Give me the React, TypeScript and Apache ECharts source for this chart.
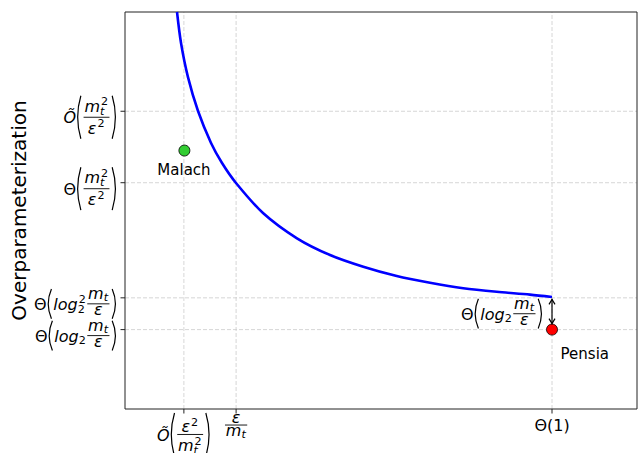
import React, { useEffect, useRef } from "react";
import * as echarts from "echarts";

// ---------------- data ----------------
const curveX = [1.016, 1.094, 1.23, 1.426, 1.68, 1.895, 2.168, 2.695, 3.359, 4.004, 4.654, 5.307, 5.957, 6.607, 7.26, 7.91, 8.34];
const curveY = [10.0, 9.22, 8.36, 7.506, 6.7, 6.196, 5.693, 4.937, 4.3, 3.879, 3.584, 3.35, 3.181, 3.043, 2.952, 2.882, 2.82];
const pointNames = ["Malach", "Pensia"];
const pointX = [1.16, 8.34];
const pointY = [6.51, 2.0];
const pointColors = ["#32cd32", "#ff0000"];
const xTickValues = [1.15, 2.17, 8.34];
const yTickValues = [7.5, 5.7, 2.8, 2.0];
const gapArrowX = 8.34;
const gapArrowFrom = 2.8;
const gapArrowTo = 2.0;
const yAxisTitle = "Overparameterization";
const xTickTexts = ["Õ(ε²/m_t²)", "ε/m_t", "Θ(1)"];
const yTickTexts = ["Õ(m_t²/ε²)", "Θ(m_t²/ε²)", "Θ(log₂² m_t/ε)", "Θ(log₂ m_t/ε)"];

// ---------------- tiny math typesetting ----------------
type M =
  | { k: "s"; t: string; it: boolean }
  | { k: "scr"; b: M[]; sub?: M[]; sup?: M[] }
  | { k: "f"; n: M[]; d: M[] }
  | { k: "lr"; b: M[] };

const v = (t: string): M => ({ k: "s", t, it: true });
const r = (t: string): M => ({ k: "s", t, it: false });
const scr = (b: M[], sub?: M[], sup?: M[]): M => ({ k: "scr", b, sub, sup });
const frac = (n: M[], d: M[]): M => ({ k: "f", n, d });
const lr = (...b: M[]): M => ({ k: "lr", b });

const mt = scr([v("m")], [v("t")]);
const mt2 = scr([v("m")], [v("t")], [r("2")]);
const eps2 = scr([v("ε")], undefined, [r("2")]);
const log2 = scr([v("log")], [r("2")]);
const log22 = scr([v("log")], [r("2")], [r("2")]);

const yTickMath: M[][] = [
  [v("Õ"), lr(frac([mt2], [eps2]))],
  [r("Θ"), lr(frac([mt2], [eps2]))],
  [r("Θ"), lr(log22, frac([mt], [v("ε")]))],
  [r("Θ"), lr(log2, frac([mt], [v("ε")]))],
];
const xTickMath: M[][] = [
  [v("Õ"), lr(frac([eps2], [mt2]))],
  [frac([v("ε")], [mt])],
  [r("Θ(1)")],
];
const gapMath: M[] = [r("Θ"), lr(log2, frac([mt], [v("ε")]))];

const FAM = "'DejaVu Sans'";
const F = 16;

type Box = { w: number; a: number; d: number; draw: (x: number, y: number, out: any[]) => void };

let mctx: CanvasRenderingContext2D | null = null;
function measure(t: string, size: number, it: boolean) {
  if (!mctx) mctx = document.createElement("canvas").getContext("2d");
  mctx!.font = `${it ? "italic " : ""}${size}px ${FAM}`;
  return mctx!.measureText(t).width;
}
function ascOf(t: string) {
  let a = 0.56;
  for (const c of t) {
    if (c === "Õ") a = Math.max(a, 0.9);
    else if (/[A-Z0-9Θ()bdfhklt]/.test(c)) a = Math.max(a, 0.76);
  }
  return a;
}
function descOf(t: string) {
  let d = 0;
  for (const c of t) if (/[gjpqy()]/.test(c)) d = 0.22;
  return d;
}

function hlist(nodes: M[], size: number): Box {
  const bs = nodes.map((n) => box(n, size));
  let w = 0, a = 0, d = 0;
  bs.forEach((b) => { w += b.w; a = Math.max(a, b.a); d = Math.max(d, b.d); });
  return {
    w, a, d,
    draw: (x, y, out) => { let cx = x; bs.forEach((b) => { b.draw(cx, y, out); cx += b.w; }); },
  };
}

function box(n: M, size: number): Box {
  if (n.k === "s") {
    const w = measure(n.t, size, n.it);
    return {
      w, a: ascOf(n.t) * size, d: descOf(n.t) * size,
      draw: (x, y, out) => {
        out.push({
          type: "text", x, y: y - 0.346 * size, silent: true,
          style: { text: n.t, font: `${n.it ? "italic " : ""}${size}px ${FAM}`, fill: "#000", align: "left", verticalAlign: "middle" },
        });
      },
    };
  }
  if (n.k === "scr") {
    const base = hlist(n.b, size);
    const ss = size * 0.7;
    const sub = n.sub ? hlist(n.sub, ss) : null;
    const sup = n.sup ? hlist(n.sup, ss) : null;
    const supShift = 0.38 * size;
    const subShift = (sup ? 0.22 : 0.16) * size;
    const supX = base.w + 0.06 * size;
    const subX = base.w + 0.0 * size;
    const w = Math.max(sup ? supX + sup.w : 0, sub ? subX + sub.w : 0) + 0.04 * size;
    const a = Math.max(base.a, sup ? supShift + sup.a : 0, sub ? sub.a - subShift : 0);
    const d = Math.max(base.d, sub ? subShift + sub.d : 0);
    return {
      w, a, d,
      draw: (x, y, out) => {
        base.draw(x, y, out);
        if (sup) sup.draw(x + supX, y - supShift, out);
        if (sub) sub.draw(x + subX, y + subShift, out);
      },
    };
  }
  if (n.k === "f") {
    const nb = hlist(n.n, size);
    const db = hlist(n.d, size);
    const AX = 0.38 * size, gap = 0.13 * size, pad = 0.1 * size;
    const inner = Math.max(nb.w, db.w);
    const w = inner + 2 * pad;
    return {
      w,
      a: AX + gap + nb.d + nb.a,
      d: db.a + db.d + gap - AX,
      draw: (x, y, out) => {
        const by = y - AX;
        out.push({ type: "line", silent: true, shape: { x1: x + pad * 0.5, y1: by, x2: x + w - pad * 0.5, y2: by }, style: { stroke: "#000", lineWidth: 0.9 } });
        nb.draw(x + pad + (inner - nb.w) / 2, by - gap - nb.d, out);
        db.draw(x + pad + (inner - db.w) / 2, by + gap + db.a, out);
      },
    };
  }
  // lr
  const body = hlist(n.b, size);
  const AX = 0.38 * size;
  const half = Math.max(body.a - AX, body.d + AX) + 0.08 * size;
  const pw = 0.42 * size;
  return {
    w: body.w + 2 * pw,
    a: AX + half,
    d: half - AX,
    draw: (x, y, out) => {
      const top = y - AX - half, bot = y - AX + half, mid = y - AX;
      const xl = x + 0.3 * size;
      out.push({ type: "bezierCurve", silent: true, shape: { x1: xl, y1: top, x2: xl, y2: bot, cpx1: xl - 0.4 * size, cpy1: mid }, style: { stroke: "#000", fill: null, lineWidth: 1.2 } });
      body.draw(x + pw, y, out);
      const xr = x + pw * 2 + body.w - 0.3 * size;
      out.push({ type: "bezierCurve", silent: true, shape: { x1: xr, y1: top, x2: xr, y2: bot, cpx1: xr + 0.4 * size, cpy1: mid }, style: { stroke: "#000", fill: null, lineWidth: 1.2 } });
    },
  };
}

export default function App() {
  const ref = useRef<HTMLDivElement>(null);
  useEffect(() => {
    const chart = echarts.init(ref.current!, undefined, { renderer: "svg" });
    const labelStyle = { fontSize: 15, fontFamily: FAM, color: "#000" };
    const option: any = {
      animation: false,
      backgroundColor: "#fff",
      grid: { left: 125, top: 12, right: 5, bottom: 44, show: true, borderColor: "#222", borderWidth: 1, outerBoundsMode: "none" },
      xAxis: {
        type: "value", min: 0, max: 10,
        axisLine: { show: false }, axisTick: { show: false }, axisLabel: { show: false }, splitLine: { show: false },
      },
      yAxis: {
        type: "value", min: 0, max: 10,
        name: yAxisTitle, nameLocation: "middle", nameGap: 96, nameRotate: 90,
        nameTextStyle: { fontSize: 20, fontFamily: FAM, color: "#000" },
        axisLine: { show: false }, axisTick: { show: false }, axisLabel: { show: false }, splitLine: { show: false },
      },
      series: [
        {
          type: "line", data: curveX.map((x, i) => [x, curveY[i]]), smooth: 0.3, showSymbol: false, symbol: "none",
          lineStyle: { color: "#0000ff", width: 2.6 }, z: 3, silent: true,
        },
        ...pointNames.map((nm, i) => ({
          type: "scatter", name: nm, z: 5, silent: true,
          data: [{ value: [pointX[i], pointY[i]], name: nm }],
          symbolSize: 11,
          itemStyle: { color: pointColors[i], borderColor: "#000", borderWidth: 0.8, opacity: 1 },
          label: {
            show: true, formatter: "{b}", ...labelStyle,
            position: i === 0 ? [5.5, 25] : [14.5, 30],
            align: i === 0 ? "center" : "left", verticalAlign: "middle",
          },
        })),
      ],
    };
    chart.setOption(option);

    const px = (x: number, y: number) => chart.convertToPixel({ gridIndex: 0 }, [x, y]) as number[];
    const [gx0, gy0] = px(0, 0);
    const [gx1, gy1] = px(10, 10);
    const els: any[] = [];
    const grid = { stroke: "#cccccc", lineWidth: 0.8, lineDash: [4, 2] };
    const tick = { stroke: "#222", lineWidth: 1 };

    yTickValues.forEach((val, i) => {
      const py = px(0, val)[1];
      els.push({ type: "line", silent: true, z: -1, shape: { x1: gx0, y1: py, x2: gx1, y2: py }, style: grid });
      els.push({ type: "line", silent: true, shape: { x1: gx0 - 4.5, y1: py, x2: gx0, y2: py }, style: tick });
      const b = hlist(yTickMath[i], F);
      b.draw(gx0 - 8 - b.w, py + 6 + 0.38 * F, els);
    });
    const xTopPad = [4, 5, 10];
    xTickValues.forEach((val, i) => {
      const pxx = px(val, 0)[0];
      els.push({ type: "line", silent: true, z: -1, shape: { x1: pxx, y1: gy0, x2: pxx, y2: gy1 }, style: grid });
      els.push({ type: "line", silent: true, shape: { x1: pxx, y1: gy0, x2: pxx, y2: gy0 + 4.5 }, style: tick });
      const b = hlist(xTickMath[i], F);
      b.draw(pxx - b.w / 2, gy0 + xTopPad[i] + b.a, els);
    });

    // double-headed gap arrow and its label
    const [ax, ay1] = px(gapArrowX, gapArrowFrom);
    const ay2 = px(gapArrowX, gapArrowTo)[1];
    const t1 = ay1 + 1.5, t2 = ay2 - 6;
    const arrow = { stroke: "#000", lineWidth: 1.2, fill: null };
    els.push({ type: "line", silent: true, z: 10, shape: { x1: ax, y1: t1, x2: ax, y2: t2 }, style: arrow });
    els.push({ type: "polyline", silent: true, z: 10, shape: { points: [[ax - 3, t1 + 5], [ax, t1], [ax + 3, t1 + 5]] }, style: arrow });
    els.push({ type: "polyline", silent: true, z: 10, shape: { points: [[ax - 3, t2 - 5], [ax, t2], [ax + 3, t2 - 5]] }, style: arrow });
    const gb = hlist(gapMath, F);
    gb.draw(ax - 9 - gb.w, (ay1 + ay2) / 2 + 0.38 * F, els);

    chart.setOption({ graphic: { elements: els } });
    return () => chart.dispose();
  }, []);
  return (
    <div
      ref={ref}
      data-xticks={xTickTexts.join("|")}
      data-yticks={yTickTexts.join("|")}
      style={{ position: "fixed", left: 0, top: 0, width: 642, height: 453, background: "#fff" }}
    />
  );
}
